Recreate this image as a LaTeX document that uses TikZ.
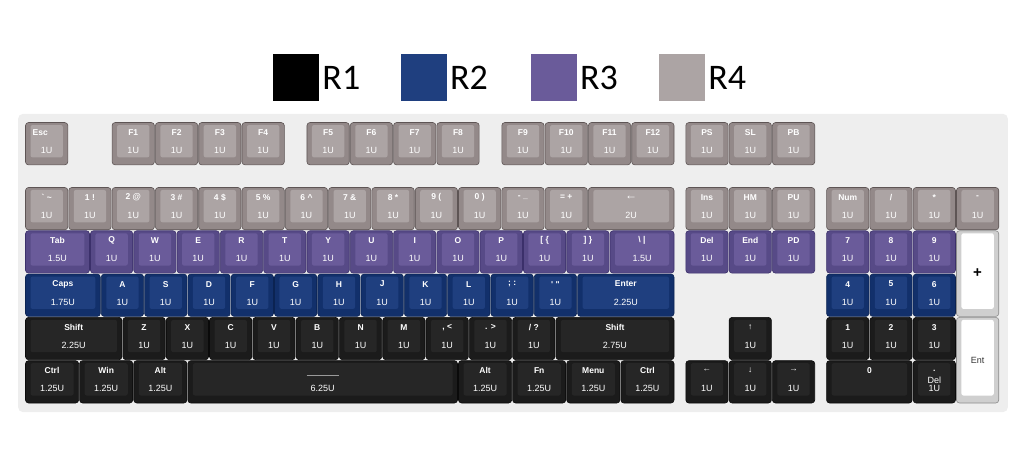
\documentclass[tikz,border=0pt]{standalone}
\usepackage{fontspec}
\setmainfont{Liberation Sans}
\newfontfamily\legendfont{Carlito}
\usetikzlibrary{positioning}

\definecolor{r1base}{HTML}{1B1B1B}
\definecolor{r1top}{HTML}{262626}
\definecolor{r1line}{HTML}{0A0A0A}
\definecolor{r2base}{HTML}{12306B}
\definecolor{r2top}{HTML}{1F3F7F}
\definecolor{r2line}{HTML}{0B2352}
\definecolor{r3base}{HTML}{574A87}
\definecolor{r3top}{HTML}{6A5B9A}
\definecolor{r3line}{HTML}{3B306A}
\definecolor{r4base}{HTML}{938989}
\definecolor{r4top}{HTML}{ACA4A4}
\definecolor{r4line}{HTML}{5E5555}
\definecolor{whbase}{HTML}{CFCFCF}
\definecolor{whtop}{HTML}{FFFFFF}
\definecolor{whline}{HTML}{8C8C8C}
\definecolor{kbbg}{HTML}{EEEEEE}
\definecolor{spacebar}{HTML}{9A9A9A}

\begin{document}
\begin{tikzpicture}[x=43.3pt, y=-43.3pt,
	keycap/.style={draw=#1line, fill=#1base, line width=0.6pt, rounded corners=3pt,
		inner sep=0pt, outer sep=0pt, anchor=north west, xshift=0.5pt, yshift=-0.5pt,
		minimum width=42.3pt, minimum height=42.3pt, text=white,
		path picture={\fill[#1top, rounded corners=2pt]
			([xshift=5pt,yshift=-2.5pt]path picture bounding box.north west) rectangle
			([xshift=-5pt,yshift=7.5pt]path picture bounding box.south east);}},
	kw/.style={minimum width=#1*43.3pt-1pt},
	kh/.style={minimum height=#1*43.3pt-1pt},
	toplbl/.style={anchor=center, yshift=-10pt, inner sep=0pt, text=white,
		font=\bfseries\fontsize{8.5}{9}\selectfont},
	sizelbl/.style={anchor=center, yshift=-28pt, inner sep=0pt, text=white,
		font=\fontsize{9}{10}\selectfont},
	lgd/.style={label={[toplbl]north:{#1}}},
	lgdw/.style={label={[toplbl,anchor=west,xshift=7pt]north west:{#1}}},
	sz/.style={label={[sizelbl]north:{#1}}},
	swatch/.style={minimum width=46pt, minimum height=47pt, inner sep=0pt},
	lgdtext/.style={inner sep=0pt, font=\legendfont\fontsize{36}{36}\selectfont}]
	\useasboundingbox (-25pt,187pt) rectangle (999pt,-278pt);

	% legend
	\node[swatch, fill=black] (r1box) at (6.26,-2.53) {};
	\node[lgdtext, right=3pt of r1box] (r1txt) {R1};
	\node[swatch, fill=r2top] (r2box) at (9.21,-2.53) {};
	\node[lgdtext, right=3pt of r2box] (r2txt) {R2};
	\node[swatch, fill=r3top] (r3box) at (12.21,-2.53) {};
	\node[lgdtext, right=3pt of r3box] (r3txt) {R3};
	\node[swatch, fill=r4top] (r4box) at (15.17,-2.53) {};
	\node[lgdtext, right=3pt of r4box] (r4txt) {R4};

	% case
	\fill[kbbg, rounded corners=5pt] (-0.16,-1.69) rectangle (22.7,5.2);

	% function row
	\node[keycap=r4, lgdw=Esc, sz=1U] (esc) at (0,-1.5) {};
	\foreach \lbl [count=\i] in {F1,F2,F3,F4}
		\node[keycap=r4, lgd=\lbl, sz=1U] (fkey\i) at (1+\i,-1.5) {};
	\foreach \lbl [count=\i from 5] in {F5,F6,F7,F8}
		\node[keycap=r4, lgd=\lbl, sz=1U] (fkey\i) at (1.5+\i,-1.5) {};
	\foreach \lbl [count=\i from 9] in {F9,F10,F11,F12}
		\node[keycap=r4, lgd=\lbl, sz=1U] (fkey\i) at (2+\i,-1.5) {};
	\foreach \lbl [count=\i from 0] in {PS,SL,PB}
		\node[keycap=r4, lgd=\lbl, sz=1U] (sys\i) at (15.25+\i,-1.5) {};

	% number row
	\foreach \lbl [count=\i from 0] in {\textasciigrave\ \textasciitilde, 1 !, 2 @, 3 \#, 4 \$, 5 \%,
			6 \textasciicircum, 7 \&, 8 *, 9 (, 0 ), - \_, = +}
		\node[keycap=r4, lgd=\lbl, sz=1U] (num\i) at (\i,0) {};
	\node[keycap=r4, kw=2, lgd={\fontsize{12}{12}\selectfont ←}, sz=2U] (bksp) at (13,0) {};
	\foreach \lbl [count=\i from 0] in {Ins,HM,PU}
		\node[keycap=r4, lgd=\lbl, sz=1U] (nav\i) at (15.25+\i,0) {};
	\foreach \lbl [count=\i from 0] in {Num,/,*,-}
		\node[keycap=r4, lgd=\lbl, sz=1U] (npad\i) at (18.5+\i,0) {};

	% tab row
	\node[keycap=r3, kw=1.5, lgd=Tab, sz=1.5U] (tab) at (0,1) {};
	\foreach \lbl [count=\i from 0] in {Q,W,E,R,T,Y,U,I,O,P,{[ \{},{] \}}}
		\node[keycap=r3, lgd=\lbl, sz=1U] (qrow\i) at (1.5+\i,1) {};
	\node[keycap=r3, kw=1.5, lgd={\textbackslash\ |}, sz=1.5U] (bslash) at (13.5,1) {};
	\foreach \lbl [count=\i from 0] in {Del,End,PD}
		\node[keycap=r3, lgd=\lbl, sz=1U] (edit\i) at (15.25+\i,1) {};
	\foreach \lbl [count=\i from 7] in {7,8,9}
		\node[keycap=r3, lgd=\lbl, sz=1U] (npad\i) at (11.5+\i,1) {};
	\node[keycap=wh, kh=2, text=black, font=\bfseries\fontsize{15}{15}\selectfont] (npadplus) at (21.5,1) {+};

	% caps row
	\node[keycap=r2, kw=1.75, lgd=Caps, sz=1.75U] (caps) at (0,2) {};
	\foreach \lbl [count=\i from 0] in {A,S,D,F,G,H,J,K,L,{; :},{\textquotesingle\ \textquotedbl}}
		\node[keycap=r2, lgd=\lbl, sz=1U] (arow\i) at (1.75+\i,2) {};
	\node[keycap=r2, kw=2.25, lgd=Enter, sz=2.25U] (enter) at (12.75,2) {};
	\foreach \lbl [count=\i from 4] in {4,5,6}
		\node[keycap=r2, lgd=\lbl, sz=1U] (npad\i) at (14.5+\i,2) {};

	% shift row
	\node[keycap=r1, kw=2.25, lgd=Shift, sz=2.25U] (lshift) at (0,3) {};
	\foreach \lbl [count=\i from 0] in {Z,X,C,V,B,N,M,{, <},{. >},{/ ?}}
		\node[keycap=r1, lgd=\lbl, sz=1U] (zrow\i) at (2.25+\i,3) {};
	\node[keycap=r1, kw=2.75, lgd=Shift, sz=2.75U] (rshift) at (12.25,3) {};
	\node[keycap=r1, lgd=↑, sz=1U] (up) at (16.25,3) {};
	\foreach \lbl [count=\i from 1] in {1,2,3}
		\node[keycap=r1, lgd=\lbl, sz=1U] (npad\i) at (17.5+\i,3) {};
	\node[keycap=wh, kh=2, text=black!80, font=\fontsize{9}{10}\selectfont] (npadent) at (21.5,3) {Ent};

	% bottom row
	\foreach \lbl [count=\i from 0] in {Ctrl,Win,Alt}
		\node[keycap=r1, kw=1.25, lgd=\lbl, sz=1.25U] (lmod\i) at (1.25*\i,4) {};
	\node[keycap=r1, kw=6.25, sz=6.25U,
		label={[toplbl,yshift=-5pt]north:{\textcolor{spacebar}{\rule{32pt}{1.5pt}}}}] (space) at (3.75,4) {};
	\foreach \lbl [count=\i from 0] in {Alt,Fn,Menu,Ctrl}
		\node[keycap=r1, kw=1.25, lgd=\lbl, sz=1.25U] (rmod\i) at (10+1.25*\i,4) {};
	\foreach \lbl [count=\i from 0] in {←,↓,→}
		\node[keycap=r1, lgd=\lbl, sz=1U] (arrow\i) at (15.25+\i,4) {};
	\node[keycap=r1, kw=2, lgd=0] (npad0) at (18.5,4) {};
	\node[keycap=r1, lgd=., sz=1U, label={[sizelbl,yshift=8pt]north:{Del}}] (npaddot) at (20.5,4) {};
\end{tikzpicture}
\end{document}
